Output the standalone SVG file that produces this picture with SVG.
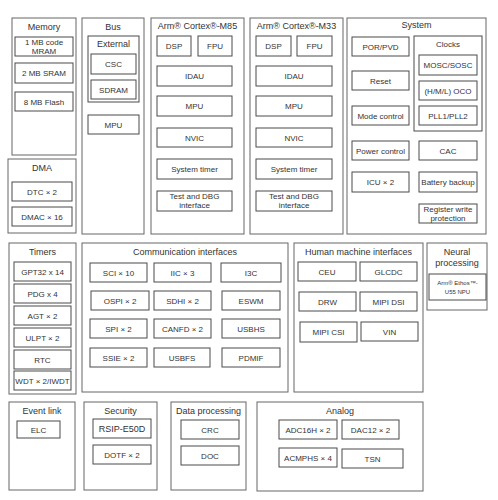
<svg xmlns="http://www.w3.org/2000/svg" width="498" height="500" viewBox="0 0 498 500">
<style>
rect{fill:#fff;stroke-width:1}
.g{stroke:#666}
.b{stroke:#4a4a4a}
text{font-family:"Liberation Sans",Arial,sans-serif;fill:#333;text-anchor:middle}
.t{font-size:9px}
.l{font-size:8px}
.s{font-size:6px}
</style>
<rect x="0" y="0" width="498" height="500" style="fill:#fff;stroke:none"/>
<g id="connectors"></g>

<g id="memory">
<rect class="g" x="12" y="18" width="64" height="137"/>
<text class="t" x="44" y="30">Memory</text>
<rect class="b" x="15" y="37" width="58" height="19"/>
<text class="l" x="44" y="44.5">1 MB code</text>
<text class="l" x="44" y="53.5">MRAM</text>
<rect class="b" x="15" y="63" width="58" height="20"/>
<text class="l" x="44" y="76">2 MB SRAM</text>
<rect class="b" x="15" y="92" width="58" height="19"/>
<text class="l" x="44" y="104.5">8 MB Flash</text>
</g>

<g id="bus">
<rect class="g" x="82" y="18" width="62" height="216"/>
<text class="t" x="113" y="30">Bus</text>
<rect class="b" x="88" y="36" width="51" height="66"/>
<text class="t" x="113.5" y="47">External</text>
<rect class="b" x="91" y="54" width="45" height="20"/>
<text class="l" x="113.5" y="67">CSC</text>
<rect class="b" x="91" y="80" width="45" height="19"/>
<text class="l" x="113.5" y="92.5">SDRAM</text>
<rect class="b" x="88" y="115" width="51" height="19"/>
<text class="l" x="113.5" y="127.5">MPU</text>
</g>

<g id="m85">
<rect class="g" x="151" y="18" width="93" height="216"/>
<text class="t" x="197.5" y="29">Arm® Cortex®-M85</text>
<rect class="b" x="157" y="36" width="34" height="20"/>
<text class="l" x="174" y="49">DSP</text>
<rect class="b" x="198" y="36" width="34" height="20"/>
<text class="l" x="215" y="49">FPU</text>
<rect class="b" x="157" y="66" width="75" height="20"/>
<text class="l" x="194.5" y="79">IDAU</text>
<rect class="b" x="157" y="96" width="75" height="20"/>
<text class="l" x="194.5" y="109">MPU</text>
<rect class="b" x="157" y="128" width="75" height="19"/>
<text class="l" x="194.5" y="140.5">NVIC</text>
<rect class="b" x="157" y="159" width="75" height="20"/>
<text class="l" x="194.5" y="172">System timer</text>
<rect class="b" x="157" y="191" width="75" height="20"/>
<text class="l" x="194.5" y="199">Test and DBG</text>
<text class="l" x="194.5" y="208">interface</text>
</g>

<g id="m33">
<rect class="g" x="250" y="18" width="93" height="216"/>
<text class="t" x="296.5" y="29">Arm® Cortex®-M33</text>
<rect class="b" x="256" y="36" width="35" height="20"/>
<text class="l" x="273.5" y="49">DSP</text>
<rect class="b" x="297" y="36" width="35" height="20"/>
<text class="l" x="314.5" y="49">FPU</text>
<rect class="b" x="256" y="66" width="76" height="20"/>
<text class="l" x="294" y="79">IDAU</text>
<rect class="b" x="256" y="96" width="76" height="20"/>
<text class="l" x="294" y="109">MPU</text>
<rect class="b" x="256" y="128" width="76" height="19"/>
<text class="l" x="294" y="140.5">NVIC</text>
<rect class="b" x="256" y="159" width="76" height="20"/>
<text class="l" x="294" y="172">System timer</text>
<rect class="b" x="256" y="191" width="76" height="20"/>
<text class="l" x="294" y="199">Test and DBG</text>
<text class="l" x="294" y="208">interface</text>
</g>

<g id="system">
<rect class="g" x="347" y="18" width="139" height="216"/>
<text class="t" x="416.5" y="28">System</text>
<rect class="b" x="352" y="37" width="57" height="19"/>
<text class="l" x="380.5" y="49.5">POR/PVD</text>
<rect class="b" x="414" y="36" width="68" height="95"/>
<text class="l" x="448" y="47">Clocks</text>
<rect class="b" x="419" y="55" width="58" height="20"/>
<text class="l" x="448" y="68">MOSC/SOSC</text>
<rect class="b" x="419" y="81" width="58" height="19"/>
<text class="l" x="448" y="93.5">(H/M/L) OCO</text>
<rect class="b" x="419" y="106" width="58" height="19"/>
<text class="l" x="448" y="118.5">PLL1/PLL2</text>
<rect class="b" x="352" y="71" width="57" height="19"/>
<text class="l" x="380.5" y="83.5">Reset</text>
<rect class="b" x="352" y="106" width="57" height="19"/>
<text class="l" x="380.5" y="118.5">Mode control</text>
<rect class="b" x="352" y="141" width="57" height="19"/>
<text class="l" x="380.5" y="153.5">Power control</text>
<rect class="b" x="419" y="141" width="58" height="19"/>
<text class="l" x="448" y="153.5">CAC</text>
<rect class="b" x="352" y="172" width="57" height="20"/>
<text class="l" x="380.5" y="185">ICU × 2</text>
<rect class="b" x="419" y="172" width="58" height="20"/>
<text class="l" x="448" y="185">Battery backup</text>
<rect class="b" x="419" y="204" width="58" height="19"/>
<text class="l" x="448" y="212">Register write</text>
<text class="l" x="448" y="221">protection</text>
</g>

<g id="dma">
<rect class="g" x="8" y="159" width="68" height="74"/>
<text class="t" x="42" y="171">DMA</text>
<rect class="b" x="12" y="182" width="60" height="19"/>
<text class="l" x="42" y="194.5">DTC × 2</text>
<rect class="b" x="12" y="207" width="60" height="19"/>
<text class="l" x="42" y="219.5">DMAC × 16</text>
</g>

<g id="timers">
<rect class="g" x="9" y="243" width="67" height="151"/>
<text class="t" x="42.5" y="255">Timers</text>
<rect class="b" x="14" y="262" width="57" height="19"/>
<text class="l" x="42.5" y="274.5">GPT32 x 14</text>
<rect class="b" x="14" y="284" width="57" height="19"/>
<text class="l" x="42.5" y="296.5">PDG x 4</text>
<rect class="b" x="14" y="306" width="57" height="19"/>
<text class="l" x="42.5" y="318.5">AGT × 2</text>
<rect class="b" x="14" y="328" width="57" height="19"/>
<text class="l" x="42.5" y="340.5">ULPT × 2</text>
<rect class="b" x="14" y="350" width="57" height="19"/>
<text class="l" x="42.5" y="362.5">RTC</text>
<rect class="b" x="14" y="371" width="57" height="19"/>
<text class="l" x="42.5" y="383.5">WDT × 2/IWDT</text>
</g>

<g id="comm">
<rect class="g" x="82" y="243" width="206" height="149"/>
<text class="t" x="185" y="255">Communication interfaces</text>
<rect class="b" x="90" y="263" width="57" height="19"/>
<text class="l" x="118.5" y="275.5">SCI × 10</text>
<rect class="b" x="154" y="263" width="57" height="19"/>
<text class="l" x="182.5" y="275.5">IIC × 3</text>
<rect class="b" x="221" y="263" width="60" height="19"/>
<text class="l" x="251" y="275.5">I3C</text>
<rect class="b" x="91" y="291" width="58" height="19"/>
<text class="l" x="120" y="303.5">OSPI × 2</text>
<rect class="b" x="154" y="291" width="57" height="19"/>
<text class="l" x="182.5" y="303.5">SDHI × 2</text>
<rect class="b" x="222" y="291" width="58" height="19"/>
<text class="l" x="251" y="303.5">ESWM</text>
<rect class="b" x="90" y="319" width="57" height="19"/>
<text class="l" x="118.5" y="331.5">SPI × 2</text>
<rect class="b" x="154" y="319" width="57" height="19"/>
<text class="l" x="182.5" y="331.5">CANFD × 2</text>
<rect class="b" x="222" y="319" width="58" height="19"/>
<text class="l" x="251" y="331.5">USBHS</text>
<rect class="b" x="90" y="348" width="57" height="19"/>
<text class="l" x="118.5" y="360.5">SSIE × 2</text>
<rect class="b" x="154" y="348" width="56" height="19"/>
<text class="l" x="182" y="360.5">USBFS</text>
<rect class="b" x="222" y="348" width="58" height="19"/>
<text class="l" x="251" y="360.5">PDMIF</text>
</g>

<g id="hmi">
<rect class="g" x="294" y="243" width="129" height="149"/>
<text class="t" x="358.5" y="255">Human machine interfaces</text>
<rect class="b" x="298" y="262" width="58" height="19"/>
<text class="l" x="327" y="274.5">CEU</text>
<rect class="b" x="360" y="262" width="57" height="19"/>
<text class="l" x="388.5" y="274.5">GLCDC</text>
<rect class="b" x="299" y="292" width="57" height="19"/>
<text class="l" x="327.5" y="304.5">DRW</text>
<rect class="b" x="360" y="292" width="57" height="19"/>
<text class="l" x="388.5" y="304.5">MIPI DSI</text>
<rect class="b" x="300" y="322" width="57" height="20"/>
<text class="l" x="328.5" y="335">MIPI CSI</text>
<rect class="b" x="361" y="322" width="57" height="19"/>
<text class="l" x="389.5" y="334.5">VIN</text>
</g>

<g id="neural">
<rect class="g" x="427" y="243" width="60" height="67"/>
<text class="t" x="457" y="255">Neural</text>
<text class="t" x="457" y="265.5">processing</text>
<rect class="b" x="429" y="274" width="57" height="26"/>
<text class="s" x="457.5" y="285">Arm® Ethos™-</text>
<text class="s" x="457.5" y="294">U55 NPU</text>
</g>

<g id="eventlink">
<rect class="g" x="9" y="402" width="66" height="88"/>
<text class="t" x="42" y="414">Event link</text>
<rect class="b" x="17" y="421" width="43" height="17"/>
<text class="l" x="38.5" y="432.5">ELC</text>
</g>

<g id="security">
<rect class="g" x="84" y="402" width="73" height="88"/>
<text class="t" x="120.5" y="414">Security</text>
<rect class="b" x="93" y="419" width="58" height="19"/>
<text class="t" x="122" y="431.5">RSIP-E50D</text>
<rect class="b" x="93" y="445" width="58" height="19"/>
<text class="l" x="122" y="457.5">DOTF × 2</text>
</g>

<g id="dataproc">
<rect class="g" x="171" y="402" width="75" height="88"/>
<text class="t" x="208.5" y="414">Data processing</text>
<rect class="b" x="181" y="420" width="58" height="19"/>
<text class="l" x="210" y="432.5">CRC</text>
<rect class="b" x="181" y="446" width="58" height="19"/>
<text class="l" x="210" y="458.5">DOC</text>
</g>

<g id="analog">
<rect class="g" x="257" y="402" width="166" height="89"/>
<text class="t" x="340" y="414">Analog</text>
<rect class="b" x="279" y="420" width="58" height="19"/>
<text class="l" x="308" y="432.5">ADC16H × 2</text>
<rect class="b" x="342" y="420" width="57" height="19"/>
<text class="l" x="370.5" y="432.5">DAC12 × 2</text>
<rect class="b" x="279" y="448" width="58" height="19"/>
<text class="l" x="308" y="460.5">ACMPHS × 4</text>
<rect class="b" x="342" y="449" width="61" height="19"/>
<text class="l" x="372.5" y="461.5">TSN</text>
</g>
</svg>
